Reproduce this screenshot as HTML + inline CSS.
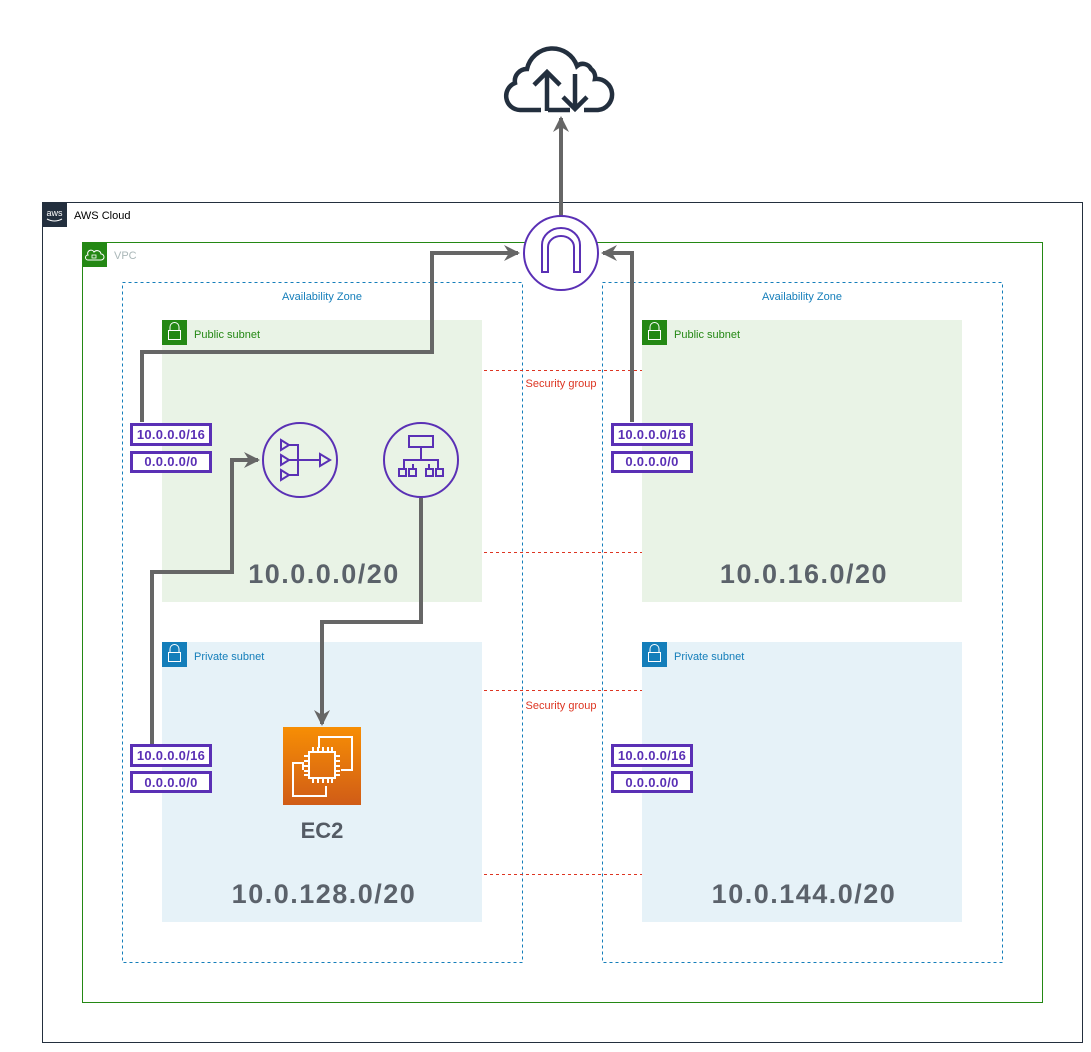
<!DOCTYPE html>
<html><head><meta charset="utf-8"><style>
html,body{margin:0;padding:0;background:#fff;}
svg{display:block;font-family:"Liberation Sans",Arial,sans-serif;}
</style></head><body>
<svg width="1091" height="1052" viewBox="0 0 1091 1052" xmlns="http://www.w3.org/2000/svg">
<defs>
<marker id="ah2" markerWidth="16" markerHeight="16" refX="14" refY="8" orient="auto" markerUnits="userSpaceOnUse" viewBox="0 0 16 16">
<path d="M0,0 L16,8 L0,16 L5,8 Z" fill="#666"/>
</marker>
<linearGradient id="og" x1="0" y1="0" x2="0" y2="1"><stop offset="0" stop-color="#F78E04"/><stop offset="1" stop-color="#D05C17"/></linearGradient>
</defs>
<!-- AWS Cloud -->
<rect x="42.5" y="202.5" width="1040" height="840" fill="none" stroke="#232F3E" stroke-width="1"/>
<rect x="42" y="202" width="25" height="25" fill="#232F3E"/>
<text x="54.5" y="216" font-size="9" fill="#fff" text-anchor="middle">aws</text>
<path d="M47,219 Q54.5,223 62,219" stroke="#fff" fill="none" stroke-width="1"/>
<text x="74" y="219" font-size="11" fill="#000">AWS Cloud</text>
<!-- VPC -->
<rect x="82.5" y="242.5" width="960" height="760" fill="none" stroke="#248814" stroke-width="1"/>
<rect x="82" y="242" width="25" height="25" fill="#248814"/>
<path d="M88,260 h13 a3,3 0 0 0 0-6 a4,4 0 0 0-7-2 a3,3 0 0 0-6,3 a2.5,2.5 0 0 0 0,5z" fill="none" stroke="#fff" stroke-width="1"/>
<rect x="92" y="255" width="4" height="3" fill="none" stroke="#fff" stroke-width="0.8"/>
<text x="114" y="259" font-size="11" fill="#AAB7B8">VPC</text>
<!-- AZs -->
<rect x="122.5" y="282.5" width="400" height="680" fill="none" stroke="#147EBA" stroke-dasharray="3,3"/>
<rect x="602.5" y="282.5" width="400" height="680" fill="none" stroke="#147EBA" stroke-dasharray="3,3"/>
<text x="322" y="300" font-size="11" fill="#147EBA" text-anchor="middle">Availability Zone</text>
<text x="802" y="300" font-size="11" fill="#147EBA" text-anchor="middle">Availability Zone</text>
<!-- Subnets -->
<g>
<rect x="162" y="320" width="320" height="282" fill="#E9F3E6"/>
<rect x="642" y="320" width="320" height="282" fill="#E9F3E6"/>
<rect x="162" y="642" width="320" height="280" fill="#E6F2F8"/>
<rect x="642" y="642" width="320" height="280" fill="#E6F2F8"/>
<rect x="162" y="320" width="25" height="25" fill="#248814"/>
<rect x="642" y="320" width="25" height="25" fill="#248814"/>
<rect x="162" y="642" width="25" height="25" fill="#147EBA"/>
<rect x="642" y="642" width="25" height="25" fill="#147EBA"/>
<g fill="none" stroke="#fff" stroke-width="1">
<path d="M170,330 v-3 a4.5,4.5 0 0 1 9,0 v3"/><rect x="168.5" y="330.5" width="12" height="9"/>
<path d="M650,330 v-3 a4.5,4.5 0 0 1 9,0 v3"/><rect x="648.5" y="330.5" width="12" height="9"/>
<path d="M170,652 v-3 a4.5,4.5 0 0 1 9,0 v3"/><rect x="168.5" y="652.5" width="12" height="9"/>
<path d="M650,652 v-3 a4.5,4.5 0 0 1 9,0 v3"/><rect x="648.5" y="652.5" width="12" height="9"/>
</g>
<text x="194" y="338" font-size="11" fill="#248814">Public subnet</text>
<text x="674" y="338" font-size="11" fill="#248814">Public subnet</text>
<text x="194" y="660" font-size="11" fill="#147EBA">Private subnet</text>
<text x="674" y="660" font-size="11" fill="#147EBA">Private subnet</text>
</g>
<!-- Security groups -->
<g stroke="#DD3522" stroke-dasharray="3,3" stroke-width="1">
<line x1="484" y1="370.5" x2="642" y2="370.5"/>
<line x1="484" y1="552.5" x2="642" y2="552.5"/>
<line x1="484" y1="690.5" x2="642" y2="690.5"/>
<line x1="484" y1="874.5" x2="642" y2="874.5"/>
</g>
<text x="561" y="387" font-size="11" fill="#DD3522" text-anchor="middle">Security group</text>
<text x="561" y="709" font-size="11" fill="#DD3522" text-anchor="middle">Security group</text>
<!-- CIDR labels -->
<g font-size="27" fill="#545B64" text-anchor="middle" letter-spacing="1.5" font-weight="bold" opacity="0.95">
<text x="324" y="583">10.0.0.0/20</text>
<text x="804" y="583">10.0.16.0/20</text>
<text x="324" y="903">10.0.128.0/20</text>
<text x="804" y="903">10.0.144.0/20</text>
</g>
<!-- connectors -->
<g fill="none" stroke="#666" stroke-width="4">
<path d="M561,216 V118" marker-end="url(#ah2)"/>
<path d="M142,422 V352 H432 V253 H518" marker-end="url(#ah2)"/>
<path d="M632,422 V253 H603" marker-end="url(#ah2)"/>
<path d="M152,745 V572 H232 V460 H258" marker-end="url(#ah2)"/>
<path d="M421,498 V622 H322 V724" marker-end="url(#ah2)"/>
</g>
<!-- Internet cloud -->
<g fill="none" stroke="#232F3E" stroke-width="4.5">
<path d="M541,110 H520 a14,14 0 0 1 -5,-27 a12,12 0 0 1 12,-14 a26,26 0 0 1 50,-3 a9,9 0 0 1 14,3 a10,10 0 0 1 4,10 a14,14 0 0 1 3,31 H584"/>
<path d="M548,110 H570"/>
<path d="M547,111 V73 M534,85 L547,72 L560,85"/>
<path d="M575,74 V110 M563,97 L575,109 L587,97"/>
</g>
<!-- IGW -->
<circle cx="561" cy="253" r="37" fill="#fff" stroke="#5A30B5" stroke-width="2"/>
<path d="M542,272 V245 a19,17 0 0 1 38,0 V272 h-6 V247 a13,11 0 0 0 -26,0 V272 Z" fill="none" stroke="#5A30B5" stroke-width="2"/>
<!-- NAT -->
<circle cx="300" cy="460" r="37" fill="none" stroke="#5A30B5" stroke-width="2"/>
<g fill="none" stroke="#5A30B5" stroke-width="2">
<path d="M281,440 l8,5 l-8,5z M281,455 l8,5 l-8,5z M281,470 l8,5 l-8,5z"/>
<path d="M289,445 h9 v30 h-9 M289,460 h30"/>
<path d="M320,454 l10,6 l-10,6z"/>
</g>
<!-- ELB -->
<circle cx="421" cy="460" r="37" fill="none" stroke="#5A30B5" stroke-width="2"/>
<g fill="none" stroke="#5A30B5" stroke-width="2">
<rect x="409" y="436" width="24" height="11"/>
<path d="M421,447 v8 M404,468 v-8 h34 v8 M413,468 v-4 M429,468 v-4 M421,455 v5"/>
<rect x="399" y="469" width="7" height="7"/><rect x="409" y="469" width="7" height="7"/>
<rect x="426" y="469" width="7" height="7"/><rect x="436" y="469" width="7" height="7"/>
</g>
<!-- EC2 -->
<rect x="283" y="727" width="78" height="78" fill="url(#og)"/>
<g fill="none" stroke="#fff" stroke-width="2">
<path d="M319,748 V737 H352 V770 H341"/>
<path d="M303,770 V763 H293 V796 H326 V786"/>
<rect x="309" y="752" width="26" height="26"/>
<path d="M313,752 v-5 M318,752 v-5 M323,752 v-5 M328,752 v-5 M332,752 v-5 M313,778 v5 M318,778 v5 M323,778 v5 M328,778 v5 M332,778 v5 M309,756 h-5 M309,761 h-5 M309,766 h-5 M309,771 h-5 M309,775 h-5 M335,756 h5 M335,761 h5 M335,766 h5 M335,771 h5 M335,775 h5"/>
</g>
<text x="322" y="838" font-size="22" font-weight="bold" fill="#545B64" text-anchor="middle">EC2</text>
<!-- Route boxes -->
<g fill="#fff" stroke="#5A30B5" stroke-width="3">
<rect x="131.5" y="424.5" width="79" height="20"/>
<rect x="131.5" y="452.5" width="79" height="19"/>
<rect x="612.5" y="424.5" width="79" height="20"/>
<rect x="612.5" y="452.5" width="79" height="19"/>
<rect x="131.5" y="745.5" width="79" height="20"/>
<rect x="131.5" y="772.5" width="79" height="19"/>
<rect x="612.5" y="745.5" width="79" height="20"/>
<rect x="612.5" y="772.5" width="79" height="19"/>
</g>
<g font-size="13" fill="#5A30B5" text-anchor="middle" font-weight="bold" letter-spacing="0.3">
<text x="171" y="439">10.0.0.0/16</text><text x="171" y="466">0.0.0.0/0</text>
<text x="652" y="439">10.0.0.0/16</text><text x="652" y="466">0.0.0.0/0</text>
<text x="171" y="760">10.0.0.0/16</text><text x="171" y="787">0.0.0.0/0</text>
<text x="652" y="760">10.0.0.0/16</text><text x="652" y="787">0.0.0.0/0</text>
</g>
</svg>
</body></html>
